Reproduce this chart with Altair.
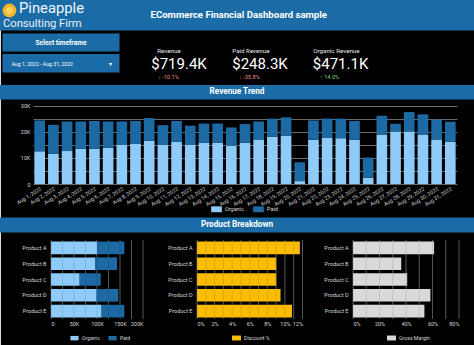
import altair as alt
import pandas as pd

W, H = 474, 345

# ---------------- data ----------------
dates = ["Aug 1, 2022", "Aug 2, 2022", "Aug 3, 2022", "Aug 4, 2022", "Aug 5, 2022",
         "Aug 6, 2022", "Aug 7, 2022", "Aug 8, 2022", "Aug 9, 2022", "Aug 10, 2022",
         "Aug 11, 2022", "Aug 12, 2022", "Aug 13, 2022", "Aug 14, 2022", "Aug 15, 2022",
         "Aug 16, 2022", "Aug 17, 2022", "Aug 18, 2022", "Aug 19, 2022", "Aug 20, 2022",
         "Aug 21, 2022", "Aug 22, 2022", "Aug 23, 2022", "Aug 24, 2022", "Aug 25, 2022",
         "Aug 26, 2022", "Aug 27, 2022", "Aug 28, 2022", "Aug 29, 2022", "Aug 30, 2022",
         "Aug 31, 2022"]
organic_k = [12.5, 11.5, 12.6, 13.5, 13.5, 13.9, 14.9, 15.3, 16.5, 14.9, 16.1, 14.9, 15.7, 15.8, 14.6,
             15.8, 17.0, 18.1, 18.5, 1.1, 16.9, 17.6, 17.5, 16.9, 2.4, 18.9, 20.1, 20.1, 18.9, 17.0, 16.1]
paid_k = [11.8, 11.1, 11.3, 10.4, 10.6, 10.0, 9.0, 8.8, 8.7, 7.6, 8.0, 7.4, 7.4, 7.3, 7.0,
          7.1, 6.9, 6.9, 7.0, 7.2, 7.4, 7.4, 7.5, 7.2, 7.7, 7.2, 2.9, 7.4, 7.7, 7.6, 7.7]
series = ["Organic", "Paid"]

products = ["Product A", "Product B", "Product C", "Product D", "Product E"]
prod_organic_k = [100.7, 95.7, 62.3, 99.3, 110.0]
prod_paid_k = [58.7, 47.8, 45.7, 47.1, 49.4]
discount_pct = [11.7, 9.0, 9.0, 9.5, 10.8]
gross_margin_pct = [61.2, 36.4, 40.9, 58.4, 53.9]

kpi_labels = ["Revenue", "Paid Revenue", "Organic Revenue"]
kpi_values = ["$719.4K", "$248.3K", "$471.1K"]
kpi_changes = ["↓ -10.1%", "↓ -35.8%", "↑ 14.0%"]
kpi_up = [False, False, True]

title_text = "ECommerce Financial Dashboard sample"
timeframe_label = "Select timeframe"
timeframe_value = "Aug 1, 2022 - Aug 31, 2022"

# axis tick positions
rev_ticks = [0, 5000, 10000, 15000, 20000, 25000, 30000]
p1_ticks = [0, 25000, 50000, 75000, 100000, 125000, 150000, 175000, 200000]
p2_ticks = [0, 0.01, 0.02, 0.03, 0.04, 0.05, 0.06, 0.07, 0.08, 0.09, 0.10, 0.11, 0.12]
p3_ticks = [0, 0.1, 0.2, 0.3, 0.4, 0.5, 0.6, 0.7, 0.8]

# ---------------- style ----------------
BLUE = "#1b6ca6"
ORG = "#8fcbf8"
PAID = "#1c69a3"
GOLD = "#fbbc04"
GREY = "#d9d9d9"
LBL = "#d6d6d6"
GRID = "#6a6a6a"
FONT = "Roboto"
RECT = "M-1,-0.55H1V0.55H-1Z"

one = pd.DataFrame({"k": [0]})


def rect(x0, x1, y0, y1, color):
    return alt.Chart(one).mark_rect(color=color).encode(
        x=alt.value(x0), x2=alt.value(x1), y=alt.value(y0), y2=alt.value(y1))


def txt(x, y, s, size, color="#ffffff", weight="normal", align="left"):
    return alt.Chart(one).mark_text(align=align, baseline="middle", fontSize=size,
                                    fontWeight=weight, color=color, font=FONT).encode(
        x=alt.value(x), y=alt.value(y), text=alt.value(s))


layers = []
# header and bands
layers.append(rect(0, W, 0, 30.5, BLUE))
layers.append(rect(2.5, 119.5, 33.5, 51.5, BLUE))
layers.append(rect(2.5, 119.5, 54, 72.5, BLUE))
layers.append(rect(0, W, 85, 99.5, BLUE))
layers.append(rect(0, W, 217.5, 232.5, BLUE))

# logo
layers.append(alt.Chart(one).mark_circle(color="#f5b52a", opacity=1).encode(
    x=alt.value(9.5), y=alt.value(10.5), size=alt.value(190)))
layers.append(alt.Chart(one).mark_circle(color="#ffd966", opacity=0.8).encode(
    x=alt.value(9.5), y=alt.value(10.5), size=alt.value(50)))
layers.append(txt(19, 9.3, "Pineapple", 14.8, "#f2f6fa"))
layers.append(txt(3, 23.6, "Consulting Firm", 11.2, "#e8eff6"))
layers.append(txt(150.5, 15, title_text, 9.6, "#ffffff", "bold"))

layers.append(txt(61, 42.5, timeframe_label, 6.6, "#ffffff", "bold", "center"))
layers.append(txt(11.5, 63.5, timeframe_value, 5.2, "#ffffff"))
layers.append(txt(110, 63.5, "▾", 5.5, "#ffffff", "normal", "center"))

# KPIs
lab_x = [157.3, 232.3, 313.3]
val_x = [151.2, 232.2, 312.8]
chg_x = [158, 239, 320]
for i in range(3):
    layers.append(txt(lab_x[i], 50.8, kpi_labels[i], 6.2, "#e6e6e6"))
    layers.append(txt(val_x[i], 63.8, kpi_values[i], 15, "#ffffff"))
    layers.append(txt(chg_x[i], 76.8, kpi_changes[i], 5.6,
                      "#7fd08a" if kpi_up[i] else "#ef8a80"))

layers.append(txt(237, 92.3, "Revenue Trend", 8.2, "#ffffff", "bold", "center"))
layers.append(txt(237, 225.3, "Product Breakdown", 8.2, "#ffffff", "bold", "center"))

# ---------------- Revenue trend ----------------
rev_df = pd.DataFrame({
    "date": dates * 2,
    "type": ["Organic"] * len(dates) + ["Paid"] * len(dates),
    "value": [v * 1000 for v in organic_k] + [v * 1000 for v in paid_k],
    "ord": [0] * len(dates) + [1] * len(dates),
})
rev = alt.Chart(rev_df).mark_bar().encode(
    x=alt.X("date:N", sort=dates,
            scale=alt.Scale(range=[33, 457], paddingInner=0.22, paddingOuter=0.1),
            axis=alt.Axis(orient="bottom", offset=184 - H, title=None, labelAngle=328,
                          labelFontSize=5.3, labelColor=LBL, ticks=False, domain=False,
                          labelPadding=2, grid=False, labelFont=FONT, labelOverlap=False)),
    y=alt.Y("value:Q", stack="zero",
            scale=alt.Scale(domain=[0, 30000], range=[184, 105.5], nice=False),
            axis=alt.Axis(orient="left", offset=-33, title=None, values=rev_ticks,
                          labelExpr="datum.value == 0 ? '0' : (datum.value % 10000 == 0 ? (datum.value/1000) + 'K' : '')",
                          labelFontSize=5.5, labelColor=LBL, ticks=False, domain=False,
                          labelPadding=3, grid=True, gridColor=GRID, gridWidth=1,
                          labelFont=FONT, zindex=0)),
    color=alt.Color("type:N", scale=alt.Scale(domain=series, range=[ORG, PAID]),
                    legend=alt.Legend(orient="none", legendX=211, legendY=203.8,
                                      direction="horizontal", title=None,
                                      labelFontSize=5.5, labelColor=LBL, labelFont=FONT,
                                      symbolType=RECT, symbolSize=114, symbolStrokeWidth=0,
                                      padding=0, columnPadding=9, labelOffset=3)),
    order=alt.Order("ord:Q"),
)
layers.append(rev)

# ---------------- Product breakdown ----------------
Y_RANGE = [240, 319]
X_OFF = 319 - H


def prod_y(x_axis_pos):
    return alt.Y("product:N", sort=products,
                 scale=alt.Scale(range=Y_RANGE, paddingInner=0.2, paddingOuter=0.1),
                 axis=alt.Axis(orient="left", offset=-x_axis_pos, title=None,
                               labelFontSize=5.5, labelColor=LBL, ticks=False, domain=False,
                               labelPadding=5, grid=False, labelFont=FONT))


def x_axis(ticks, expr):
    return alt.Axis(orient="bottom", offset=X_OFF, title=None, values=ticks, labelExpr=expr,
                    labelFontSize=5.5, labelColor=LBL, ticks=False, domain=False,
                    labelPadding=2, grid=False, labelFont=FONT)


def grid_rules(ticks, scale, axis, color, width, opacity):
    gdf = pd.DataFrame({"value": ticks})
    return alt.Chart(gdf).mark_rule(color=color, strokeWidth=width, opacity=opacity).encode(
        x=alt.X("value:Q", scale=scale, axis=axis),
        y=alt.value(Y_RANGE[0]), y2=alt.value(Y_RANGE[1]))


def legend(lx, size, colpad=8):
    return alt.Legend(orient="none", legendX=lx, legendY=333.5, direction="horizontal",
                      title=None, labelFontSize=5.2, labelColor=LBL, labelFont=FONT,
                      symbolType=RECT, symbolSize=size, symbolStrokeWidth=0,
                      padding=0, columnPadding=colpad, labelOffset=3)


def product_chart(bars, ticks, scale, axis):
    back = grid_rules(ticks, scale, axis, GRID, 0.9, 1)
    front = grid_rules(ticks, scale, axis, "#000000", 0.6, 0.18)
    return alt.layer(back, bars, front)


# chart 1: revenue by product
p1_scale = alt.Scale(domain=[0, 200000], range=[51, 143], nice=False)
p1_axis = x_axis(p1_ticks, "datum.value == 0 ? '0' : (datum.value % 50000 == 0 ? (datum.value/1000) + 'K' : '')")
p1_df = pd.DataFrame({
    "product": products * 2,
    "type": ["Organic"] * 5 + ["Paid"] * 5,
    "value": [v * 1000 for v in prod_organic_k] + [v * 1000 for v in prod_paid_k],
    "ord": [0] * 5 + [1] * 5,
})
p1_bars = alt.Chart(p1_df).mark_bar().encode(
    y=prod_y(51),
    x=alt.X("value:Q", stack="zero", scale=p1_scale, axis=p1_axis),
    color=alt.Color("type:N", scale=alt.Scale(domain=series, range=[ORG, PAID]),
                    legend=legend(70, 66)),
    order=alt.Order("ord:Q"),
)
layers.append(product_chart(p1_bars, p1_ticks, p1_scale, p1_axis))

# chart 2: discount %
p2_scale = alt.Scale(domain=[0, 0.12], range=[197, 302.5], nice=False)
p2_axis = x_axis(p2_ticks, "round(datum.value*100) % 2 == 0 ? round(datum.value*100) + '%' : ''")
p2_df = pd.DataFrame({"product": products, "value": [v / 100 for v in discount_pct],
                      "s": ["Discount %"] * 5})
p2_bars = alt.Chart(p2_df).mark_bar().encode(
    y=prod_y(197),
    x=alt.X("value:Q", scale=p2_scale, axis=p2_axis),
    color=alt.Color("s:N", scale=alt.Scale(domain=["Discount %"], range=[GOLD]),
                    legend=legend(232, 80)),
)
layers.append(product_chart(p2_bars, p2_ticks, p2_scale, p2_axis))

# chart 3: gross margin
p3_scale = alt.Scale(domain=[0, 0.8], range=[353, 459], nice=False)
p3_axis = x_axis(p3_ticks, "round(datum.value*100) % 20 == 0 ? round(datum.value*100) + '%' : ''")
p3_df = pd.DataFrame({"product": products, "value": [v / 100 for v in gross_margin_pct],
                      "s": ["Gross Margin"] * 5})
p3_bars = alt.Chart(p3_df).mark_bar().encode(
    y=prod_y(353),
    x=alt.X("value:Q", scale=p3_scale, axis=p3_axis),
    color=alt.Color("s:N", scale=alt.Scale(domain=["Gross Margin"], range=[GREY]),
                    legend=legend(387, 80)),
)
layers.append(product_chart(p3_bars, p3_ticks, p3_scale, p3_axis))

chart = alt.layer(*layers).resolve_scale(
    x="independent", y="independent", color="independent"
).properties(
    width=W, height=H, padding=0, background="#000000",
    autosize=alt.AutoSizeParams(type="none"),
).configure_view(stroke=None, fill="#000000").configure(font=FONT)

chart.save("out.html", embed_options={"renderer": "svg", "actions": False})
